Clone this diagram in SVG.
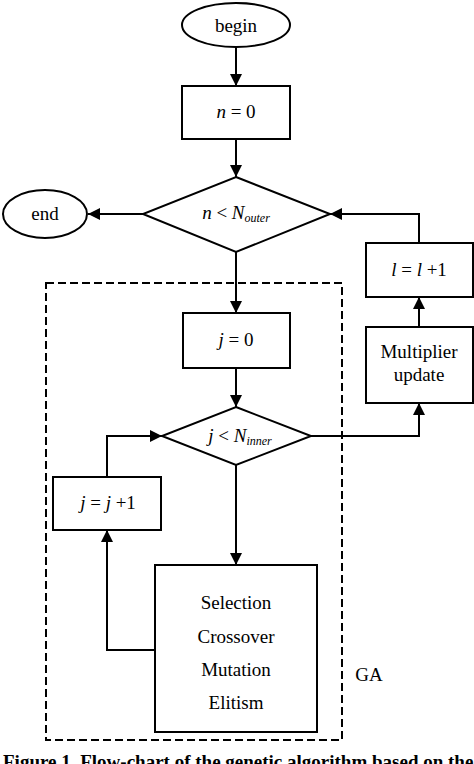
<svg xmlns="http://www.w3.org/2000/svg" width="474" height="764" viewBox="0 0 474 764">
<defs>
<style>
.s{fill:#fff;stroke:#000;stroke-width:2}
.t{font-family:"Liberation Serif","Times New Roman",serif;font-size:19px;fill:#000;text-anchor:middle}
.i{font-style:italic}
.sub{font-style:italic;font-size:12px}
.c{fill:none;stroke:#000;stroke-width:2}
</style>
<marker id="a" markerUnits="userSpaceOnUse" markerWidth="12" markerHeight="12" refX="12" refY="6" orient="auto">
<path d="M0,0 L12,6 L0,12 Z" fill="#000"/>
</marker>
</defs>
<rect width="474" height="764" fill="#fff"/>
<g id="connectors">
<path class="c" d="M236,47 V86" marker-end="url(#a)"/>
<path class="c" d="M236,139 V177" marker-end="url(#a)"/>
<path class="c" d="M143,214 H88" marker-end="url(#a)"/>
<path class="c" d="M419,243 V214 H330" marker-end="url(#a)"/>
<path class="c" d="M419,327 V297" marker-end="url(#a)"/>
<path class="c" d="M236,252 V313" marker-end="url(#a)"/>
<path class="c" d="M236,368 V407" marker-end="url(#a)"/>
<path class="c" d="M311,436 H419 V403" marker-end="url(#a)"/>
<path class="c" d="M107,477 V436 H162" marker-end="url(#a)"/>
<path class="c" d="M236,465 V565" marker-end="url(#a)"/>
<path class="c" d="M155,650 H107 V530" marker-end="url(#a)"/>
</g>
<g id="ga-frame">
<rect x="46" y="283" width="296" height="457" fill="none" stroke="#000" stroke-width="2" stroke-dasharray="8 4"/>
<text class="t" x="369" y="681">GA</text>
</g>
<g id="begin">
<ellipse class="s" cx="236" cy="25" rx="54" ry="22"/>
<text class="t" x="236" y="32">begin</text>
</g>
<g id="n0">
<rect class="s" x="182" y="86" width="108" height="53"/>
<text class="t" x="236" y="118"><tspan class="i">n</tspan> = 0</text>
</g>
<g id="outer-test">
<path class="s" d="M236,177 L330,214 L236,252 L143,214 Z"/>
<text class="t" x="236" y="219"><tspan class="i">n</tspan> &lt; <tspan class="i">N</tspan><tspan class="sub" dy="3">outer</tspan></text>
</g>
<g id="end">
<ellipse class="s" cx="45" cy="214" rx="42" ry="24"/>
<text class="t" x="45" y="220">end</text>
</g>
<g id="l-inc">
<rect class="s" x="366" y="243" width="107" height="54"/>
<text class="t" x="419" y="276"><tspan class="i">l</tspan> = <tspan class="i">l</tspan> +1</text>
</g>
<g id="multiplier">
<rect class="s" x="366" y="327" width="107" height="76"/>
<text class="t" x="419" y="358">Multiplier</text>
<text class="t" x="419" y="381">update</text>
</g>
<g id="j0">
<rect class="s" x="183" y="313" width="107" height="55"/>
<text class="t" x="236" y="346"><tspan class="i">j</tspan> = 0</text>
</g>
<g id="inner-test">
<path class="s" d="M236,407 L311,436 L236,465 L162,436 Z"/>
<text class="t" x="240" y="442"><tspan class="i">j</tspan> &lt; <tspan class="i">N</tspan><tspan class="sub" dy="3">inner</tspan></text>
</g>
<g id="j-inc">
<rect class="s" x="53" y="477" width="108" height="53"/>
<text class="t" x="108" y="509"><tspan class="i">j</tspan> = <tspan class="i">j</tspan> +1</text>
</g>
<g id="ga-ops">
<rect class="s" x="155" y="565" width="162" height="167"/>
<text class="t" x="236" y="609">Selection</text>
<text class="t" x="236" y="643">Crossover</text>
<text class="t" x="236" y="676">Mutation</text>
<text class="t" x="236" y="709">Elitism</text>
</g>
<text x="3" y="768" font-family="Liberation Serif, Times New Roman, serif" font-size="19" font-weight="bold">Figure 1. Flow-chart of the genetic algorithm based on the</text>
</svg>
